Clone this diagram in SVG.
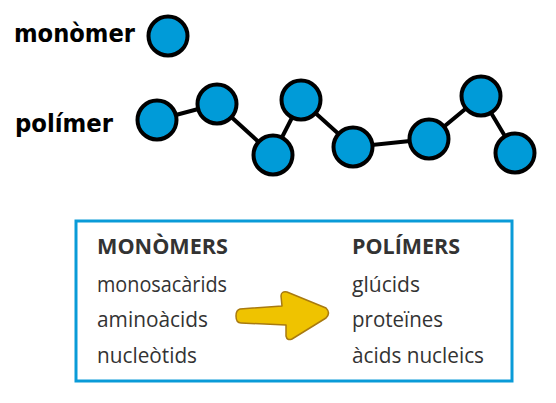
<svg xmlns="http://www.w3.org/2000/svg" width="556" height="403" viewBox="0 0 556 403">
<style>
.lbl{font-family:"DejaVu Sans","Liberation Sans",sans-serif;font-weight:bold;font-size:25px;fill:#000}
.atom{fill:#009BD8;stroke:#000;stroke-width:4}
.bond{stroke:#000;stroke-width:4;fill:none}
.hd{font-family:"Open Sans","Liberation Sans",sans-serif;font-weight:bold;font-size:21.5px;fill:#333}
.it{font-family:"Open Sans","Liberation Sans",sans-serif;font-size:22px;fill:#333}
</style>
<rect width="556" height="403" fill="#fff"/>
<g id="label-monomer"><text class="lbl" x="14" y="42" textLength="121" lengthAdjust="spacingAndGlyphs">monòmer</text></g>
<g id="label-polimer"><text class="lbl" x="15" y="132" textLength="98" lengthAdjust="spacingAndGlyphs">polímer</text></g>
<g id="connectors">
<polyline class="bond" points="157,120 217,104 273,155 301,100 353,147 429,139 481,96 515,153"/>
</g>
<g id="monomer"><circle class="atom" cx="168" cy="36" r="19.5"/></g>
<g id="p1"><circle class="atom" cx="157" cy="120" r="19.5"/></g>
<g id="p2"><circle class="atom" cx="217" cy="104" r="19.5"/></g>
<g id="p3"><circle class="atom" cx="273" cy="155" r="19.5"/></g>
<g id="p4"><circle class="atom" cx="301" cy="100" r="19.5"/></g>
<g id="p5"><circle class="atom" cx="353" cy="147" r="19.5"/></g>
<g id="p6"><circle class="atom" cx="429" cy="139" r="19.5"/></g>
<g id="p7"><circle class="atom" cx="481" cy="96" r="19.5"/></g>
<g id="p8"><circle class="atom" cx="515" cy="153" r="19.5"/></g>
<g id="table">
<rect x="76" y="221" width="436" height="160" fill="none" stroke="#0A9BD8" stroke-width="3"/>
<text class="hd" x="97" y="254" textLength="131" lengthAdjust="spacingAndGlyphs">MONÒMERS</text>
<text class="it" x="97" y="292" textLength="130" lengthAdjust="spacingAndGlyphs">monosacàrids</text>
<text class="it" x="97" y="327" textLength="111" lengthAdjust="spacingAndGlyphs">aminoàcids</text>
<text class="it" x="97" y="363" textLength="100" lengthAdjust="spacingAndGlyphs">nucleòtids</text>
<text class="hd" x="352" y="254" textLength="108" lengthAdjust="spacingAndGlyphs">POLÍMERS</text>
<text class="it" x="352" y="292" textLength="68" lengthAdjust="spacingAndGlyphs">glúcids</text>
<text class="it" x="352" y="327" textLength="91" lengthAdjust="spacingAndGlyphs">proteïnes</text>
<text class="it" x="352" y="363" textLength="132" lengthAdjust="spacingAndGlyphs">àcids nucleics</text>
</g>
<g id="arrow">
<path d="M240 309 Q236 310 236 316 Q236 323 241 323 L286 325 L286 336 Q287 341 292 339 L326 318 Q331 313 326 308 L287 292 Q281 291 281 296 L282 306 Z" fill="#EFC300" stroke="#A87A10" stroke-width="1.5" stroke-linejoin="round"/>
</g>
</svg>
